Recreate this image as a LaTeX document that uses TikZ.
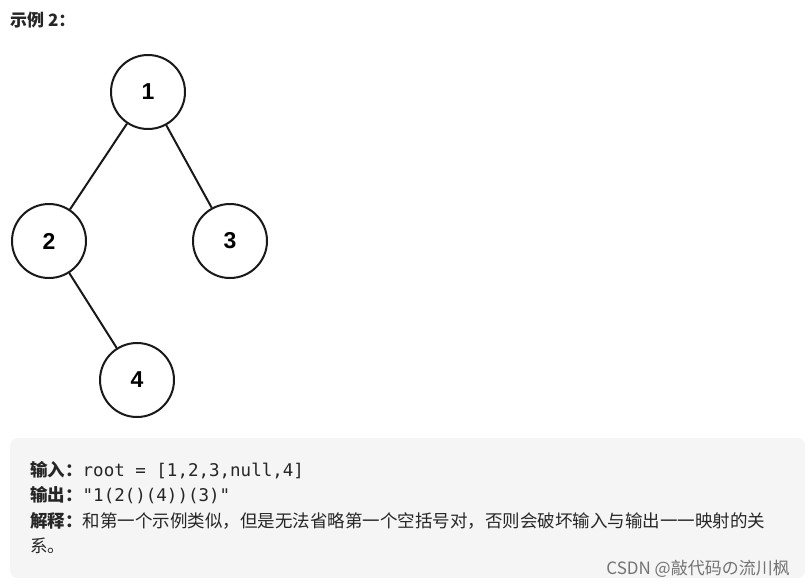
\documentclass[tikz,border=0pt]{standalone}
\usepackage{fontspec}
\setmainfont{Liberation Sans}
\newfontfamily\cjk{Noto Sans CJK SC}
\newfontfamily\mono{DejaVu Sans Mono}
\begin{document}
\begin{tikzpicture}[x=1pt,y=-1pt,
  tn/.style={circle,draw=black!90,line width=2pt,minimum size=74pt,inner sep=0pt,font=\fontsize{23}{24}\selectfont\bfseries},
  ed/.style={line width=2pt,black!90},
  txt/.style={anchor=base west,inner sep=0pt,font=\fontsize{17.5}{20}\selectfont,text=black!85}]
\useasboundingbox (0,0) rectangle (805,586);
\node[txt,font=\cjk\fontsize{17}{20}\selectfont\bfseries] (t) at (10,27) {示例 2：};
\node[tn] (n1) at (148,92) {1};
\node[tn] (n2) at (49,241) {2};
\node[tn] (n3) at (230,241) {3};
\node[tn] (n4) at (137,380) {4};
\draw[ed] (n1) -- (n2);
\draw[ed] (n1) -- (n3);
\draw[ed] (n2) -- (n4);
\fill[black!4,rounded corners=8pt] (10,438) rectangle (805,578);
\node[txt] (l1) at (30,476) {{\cjk\bfseries 输入：}{\mono root = [1,2,3,null,4]}};
\node[txt] (l2) at (30,501) {{\cjk\bfseries 输出：}{\mono "1(2()(4))(3)"}};
\node[txt] (l3) at (30,527) {{\cjk\bfseries 解释：}{\cjk 和第一个示例类似，但是无法省略第一个空括号对，否则会破坏输入与输出一一映射的关}};
\node[txt] (l4) at (30,552) {\cjk 系。};
\node[anchor=base east,inner sep=0pt,font=\cjk\fontsize{17}{18}\selectfont,text=black!55] (w) at (790,574) {CSDN @敲代码の流川枫};
\end{tikzpicture}
\end{document}
